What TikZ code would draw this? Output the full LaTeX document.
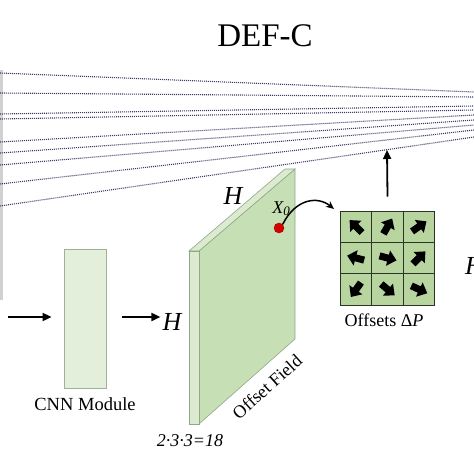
\documentclass[tikz,border=0pt]{standalone}
\usepackage{fontspec}
\setmainfont{Liberation Serif}
\usetikzlibrary{arrows.meta,calc}
\definecolor{dotc}{HTML}{3C3C66}
\definecolor{cnnfill}{HTML}{E3EEDB}
\definecolor{cnnedge}{HTML}{9DB393}
\definecolor{slabface}{HTML}{C6DFB4}
\definecolor{slabside}{HTML}{DCEAD0}
\definecolor{slabedge}{HTML}{8FA887}
\definecolor{gridfill}{HTML}{B8D5A0}
\definecolor{gridline}{HTML}{2A3624}
\tikzset{
  dotline/.style={dotc, line width=1.1pt, dash pattern=on 1pt off 1pt},
  arr/.style={line width=1.8pt, -{Triangle[length=9pt,width=8pt]}},
  fatarrowstyle/.style={fill=black},
  gline/.style={gridline, line width=1pt},
}
\newcommand\fatarr[3]{\fill[fatarrowstyle, shift={(#1,#2)}, rotate=#3, scale=1.1]
  (-7.5,-3.2) -- (0.5,-3.2) -- (0.5,-7.2) -- (8.5,0) -- (0.5,7.2) -- (0.5,3.2) -- (-7.5,3.2) -- cycle;}
\begin{document}
\begin{tikzpicture}[x=1pt,y=-1pt]
\useasboundingbox[fill=white] (0,0) rectangle (474,474);
% left grey bar
\fill[black!18] (0,70) rectangle (3,300);
% title
\node[font=\fontsize{33}{36}\selectfont] (title) at (265,36) {DEF-C};
% dotted lines
\draw[dotline] (0,73) -- (474,92);
\draw[dotline] (0,93) -- (474,97);
\draw[dotline] (0,114) -- (474,106);
\draw[dotline] (0,119) -- (474,110);
\draw[dotline] (0,142) -- (474,115);
\draw[dotline] (0,153) -- (474,120);
\draw[dotline] (0,165) -- (474,125);
\draw[dotline] (0,184) -- (474,130);
\draw[dotline] (0,206) -- (474,137);
% CNN module
\node[draw=cnnedge, fill=cnnfill, line width=0.8pt, minimum width=42pt, minimum height=139pt, inner sep=0pt] (cnn) at (85,318.5) {};
\node[font=\fontsize{18.5}{20}\selectfont] (cnnlbl) at (85,404) {CNN Module};
\coordinate (in) at (8,317);
\draw[arr, shorten >=12pt] (in) -- (cnn.west |- in);
% H left
\node[font=\fontsize{26}{28}\selectfont\itshape, inner sep=0pt] (Hl) at (172,322) {H};
\draw[arr, shorten <=16pt, shorten >=2pt] (cnn.east |- in) -- (Hl.west |- in);
% slab
\coordinate (s1) at (189,251);
\coordinate (s2) at (199,251);
\coordinate (s3) at (199,424);
\coordinate (s4) at (189,424);
\coordinate (b2) at (295,169);
\coordinate (b3) at (295,339);
\coordinate (b1) at (285,169);
\filldraw[fill=slabface, draw=slabedge, line width=0.6pt] (s2) -- (b2) -- (b3) -- (s3) -- cycle;
\filldraw[fill=slabside, draw=slabedge, line width=0.6pt] (s1) -- (b1) -- (b2) -- (s2) -- cycle;
\filldraw[fill=slabside, draw=slabedge, line width=0.6pt] (s1) -- (s2) -- (s3) -- (s4) -- cycle;
\node[font=\fontsize{26}{28}\selectfont\itshape, inner sep=0pt] (Ht) at (233,196) {H};
\node[font=\fontsize{18}{20}\selectfont, rotate=42, inner sep=0pt] (oflbl) at (267,387) {Offset Field};
\node[font=\fontsize{18}{20}\selectfont\itshape, inner sep=0pt] (dims) at (190,441) {2·3·3=18};
% X0
\node[font=\fontsize{18}{18}\selectfont\itshape, inner sep=0pt] (x0lbl) at (281,209) {X\raisebox{-0.25ex}{\fontsize{13}{13}\selectfont 0}};
\node[circle, fill=red!85!black, draw=red!60!black, line width=0.4pt, minimum size=10pt, inner sep=0pt] (x0) at (279,228) {};
% grid
\node[fill=gridfill, draw=gridline, line width=1pt, minimum size=94pt, inner sep=0pt] (grid) at (387.5,258) {};
\draw[gline] ($(grid.north west)!1/3!(grid.north east)$) -- ($(grid.south west)!1/3!(grid.south east)$);
\draw[gline] ($(grid.north west)!2/3!(grid.north east)$) -- ($(grid.south west)!2/3!(grid.south east)$);
\draw[gline] ($(grid.north west)!1/3!(grid.south west)$) -- ($(grid.north east)!1/3!(grid.south east)$);
\draw[gline] ($(grid.north west)!2/3!(grid.south west)$) -- ($(grid.north east)!2/3!(grid.south east)$);
% fat arrows in cells (centres)
\fatarr{356.2}{226.7}{135}
\fatarr{387.5}{226.7}{60}
\fatarr{418.8}{226.7}{35}
\fatarr{356.2}{258}{165}
\fatarr{387.5}{258}{-15}
\fatarr{418.8}{258}{45}
\fatarr{356.2}{289.3}{235}
\fatarr{387.5}{289.3}{-40}
\fatarr{418.8}{289.3}{-25}
\node[font=\fontsize{18}{20}\selectfont, inner sep=0pt] (offlbl) at (384,320) {Offsets Δ\textit{P}};
% curved arrow from X0 to grid
\coordinate (ce) at (334,209);
\draw[line width=1.5pt, -{Stealth[length=8pt,width=7pt]}] (x0.north east) .. controls (296,198) and (318,196) .. (ce);
% up arrow
\coordinate (up) at (387,150);
\draw[arr] ($(grid.north)+(0,-14)$) -- (up);
% partial H at right edge
\node[font=\fontsize{26}{28}\selectfont\itshape, inner sep=0pt, anchor=west] (Hr) at (465,266) {H};
\end{tikzpicture}
\end{document}
